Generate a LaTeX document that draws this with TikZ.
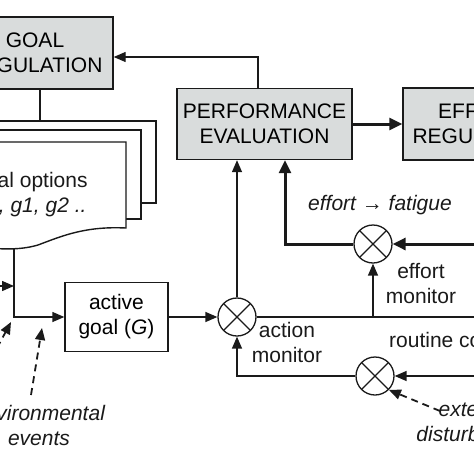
\documentclass[tikz,border=0pt]{standalone}
\usepackage{fontspec}
\setmainfont{Liberation Sans}
\usetikzlibrary{arrows.meta,positioning,calc}
\definecolor{boxgray}{HTML}{D9DCDC}
\definecolor{inkgray}{HTML}{1A1A1A}
\newcommand{\bigfont}{\fontsize{21}{25}\selectfont}

\begin{document}
\begin{tikzpicture}[x=1pt,y=-1pt,
 regbox/.style={draw=inkgray,fill=boxgray,line width=1.4pt,align=center,inner sep=0pt,font=\bigfont},
 plainbox/.style={draw=inkgray,fill=white,line width=1.4pt,align=center,inner sep=0pt,font=\bigfont},
 summer/.style={circle,draw=inkgray,fill=white,line width=1.3pt,minimum size=38pt,inner sep=0pt,path picture={\draw[inkgray,line width=1.3pt] (path picture bounding box.north west) -- (path picture bounding box.south east) (path picture bounding box.north east) -- (path picture bounding box.south west);}},
 thinline/.style={draw=inkgray,line width=1.4pt},
 thinarr/.style={draw=inkgray,line width=1.4pt,-{Triangle[length=12pt,width=10pt]}},
 thickarr/.style={draw=inkgray,line width=3pt,-{Triangle[length=13pt,width=12pt]}},
 dasharr/.style={draw=inkgray,line width=1.8pt,dash pattern=on 7pt off 5pt,-{Triangle[length=12pt,width=10pt]}},
 lbl/.style={align=center,inner sep=0pt,text=inkgray,font=\bigfont},
 page/.style={draw=inkgray,fill=white,line width=1.4pt}]
\useasboundingbox (0,0) rectangle (474,474);
\clip (0,0) rectangle (474,474);

\node[regbox,minimum width=156pt,minimum height=72pt] (goalreg) at (35,53) {GOAL\\REGULATION};
\node[regbox,minimum width=175pt,minimum height=71pt] (perf) at (264.5,124) {PERFORMANCE\\EVALUATION};
\node[regbox,minimum width=154pt,minimum height=72pt] (effreg) at (480,124) {EFFORT\\REGULATION};

\draw[page] (-70,121) rectangle (156,203);
\draw[page] (-70,130) rectangle (141,219);
\draw[page] (-70,142) -- (126,142) -- (126,228) .. controls (85,226) and (62,236) .. (38,245) .. controls (15,252) and (-20,250) .. (-70,236) -- cycle;
\node[lbl] (opts) at (31,195) {goal options\\\textit{g0, g1, g2 ..}};

\node[plainbox,minimum width=103pt,minimum height=69pt] (agoal) at (116.5,317) {active\\goal (\textit{G})};

\node[summer] (actmon) at (237,317) {};
\node[summer] (effmon) at (373,244) {};
\node[summer] (routmon) at (375,376) {};

\node[lbl,font=\bigfont\itshape] (fatigue) at (380,205) {effort → fatigue};
\node[lbl] (effmonlbl) at (421,283) {effort\\monitor};
\node[lbl] (actmonlbl) at (287,342) {action\\monitor};
\node[lbl,anchor=west] (routlbl) at (389,340) {routine control};
\node[lbl,font=\bigfont\itshape] (distlbl) at (476,421) {external\\disturbances};
\node[lbl,font=\bigfont\itshape] (envlbl) at (39,425) {environmental\\events};

\coordinate (fbk) at (258,57);
\draw[thinarr] (fbk |- perf.north) -- (fbk) -- (fbk -| goalreg.east);
\draw[thickarr] (perf.east) -- (effreg.west);

\coordinate (gtap) at (40,121);
\draw[thinline] (gtap |- goalreg.south) -- (gtap);

\coordinate (optout) at (14,249);
\coordinate (corner) at (14,317);
\coordinate (lin) at (-30,286);
\draw[thinarr] (optout) -- (corner) -- (agoal.west);
\draw[thinarr] (lin) -- (lin -| corner);
\coordinate (env1) at (-3,348);
\coordinate (env2) at (31,395);
\draw[dasharr] (env1) -- ([shift={(-3,5)}]corner);
\draw[dasharr] (env2) -- ([shift={(28,11)}]corner);

\draw[thinarr] (agoal.east) -- (actmon.west);
\draw[thinarr] (actmon.north) -- (actmon.north |- perf.south);

\coordinate (effup) at (285,244);
\coordinate (effin) at (490,244);
\draw[thickarr] (effmon.west) -- (effup) -- (effup |- perf.south);
\draw[thickarr] (effin) -- (effmon.east);

\coordinate (actout) at (490,317);
\draw[thinline] (actmon.east) -- (actout);
\draw[thinarr] (effmon.south |- actout) -- (effmon.south);

\coordinate (routin) at (490,376);
\coordinate (distsrc) at (440,411);
\draw[thinarr] (routin) -- (routmon.east);
\draw[thinarr] (routmon.west) -- (actmon.south |- routmon.west) -- (actmon.south);
\draw[dasharr] (distsrc) -- (routmon.south east);
\end{tikzpicture}
\end{document}
